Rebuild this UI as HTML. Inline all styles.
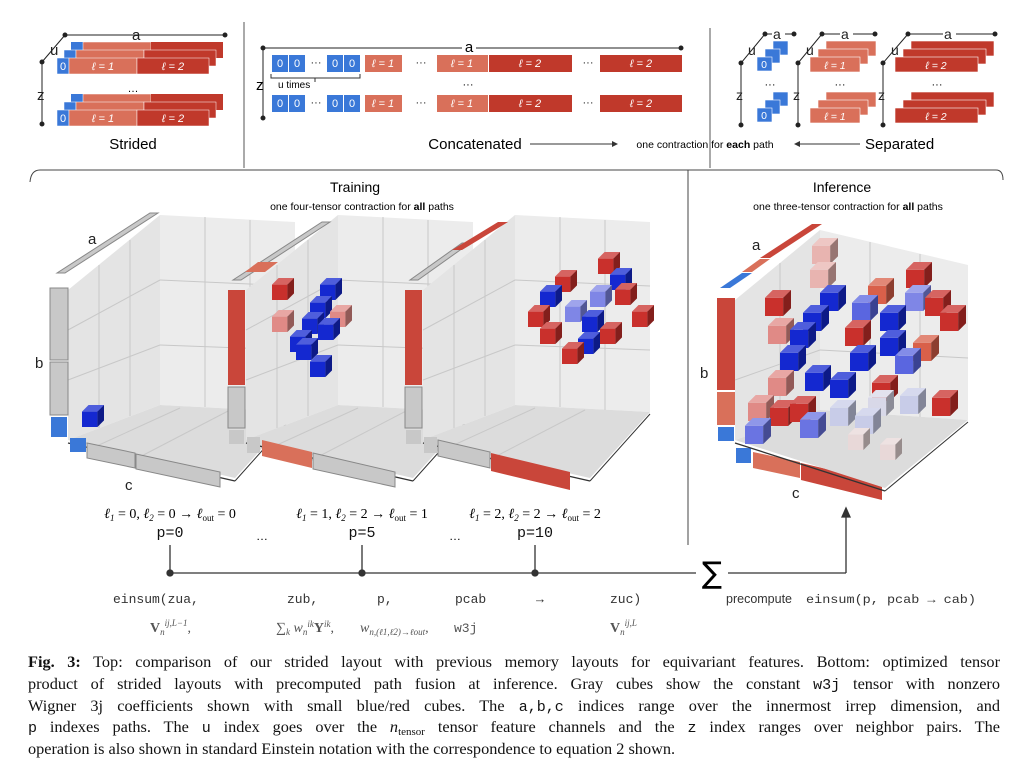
<!DOCTYPE html>
<html><head><meta charset="utf-8"><style>
body{margin:0;background:#fff;width:1024px;height:769px;overflow:hidden;position:relative;font-family:"Liberation Sans",sans-serif}
svg{position:absolute;left:0;top:0}
.cap{position:absolute;left:28px;width:972px;font-family:"Liberation Serif",serif;font-size:16.3px;line-height:21.8px;top:651px;color:#111}
.cap div{text-align:justify;text-align-last:justify;white-space:nowrap;height:21.8px}
.cap div.l{text-align-last:left}
.cap sub{font-size:11px;line-height:0;vertical-align:-3px}
.mono{font-family:"Liberation Mono",monospace;font-size:15px}
</style></head><body>
<svg width="1024" height="769" viewBox="0 0 1024 769" font-family="Liberation Sans, sans-serif">
<defs>
<symbol id="cb" viewBox="0 0 20 20" overflow="visible">
<rect x="0" y="6" width="14" height="14" fill="currentColor"/>
<polygon points="0,6 6,0 20,0 14,6" fill="currentColor"/>
<polygon points="0,6 6,0 20,0 14,6" fill="#fff" opacity=".25"/>
<polygon points="14,6 20,0 20,14 14,20" fill="currentColor"/>
<polygon points="14,6 20,0 20,14 14,20" fill="#000" opacity=".35"/>
</symbol>
<g id="panel">
<polygon points="68,290 160,215 160,405 68,440" fill="#e4e4e4"/>
<polygon points="160,215 295,222 295,412 160,405" fill="#ececec"/>
<polygon points="68,440 160,405 295,412 235,478" fill="#dcdcdc"/>
<g stroke="#c8c8c8" stroke-width="1" fill="none">
<line x1="99" y1="265" x2="99" y2="428"/><line x1="130" y1="240" x2="130" y2="416"/>
<line x1="205" y1="217" x2="205" y2="407"/><line x1="250" y1="220" x2="250" y2="410"/>
<line x1="68" y1="380" x2="160" y2="345"/><line x1="68" y1="330" x2="160" y2="280"/>
<line x1="160" y1="345" x2="295" y2="350"/><line x1="160" y1="280" x2="295" y2="286"/>
<line x1="88" y1="450" x2="180" y2="408"/><line x1="130" y1="462" x2="230" y2="410"/>
</g>
<line x1="68" y1="443" x2="235" y2="481" stroke="#333" stroke-width="1.3"/>
<line x1="235" y1="481" x2="295" y2="414" stroke="#333" stroke-width="1"/>
</g>
</defs>

<g font-size="11" fill="#fff" text-anchor="middle" font-style="italic">
<g id="sst">
<rect x="71" y="42" width="12" height="16" fill="#3a78d8"/><rect x="83" y="42" width="68" height="16" fill="#d9705a" stroke="#fff" stroke-width=".5"/><rect x="151" y="42" width="72" height="16" fill="#c0392b"/>
<rect x="64" y="50" width="12" height="16" fill="#3a78d8" stroke="#fff" stroke-width=".5"/><rect x="76" y="50" width="68" height="16" fill="#d9705a" stroke="#fff" stroke-width=".5"/><rect x="144" y="50" width="72" height="16" fill="#c0392b" stroke="#fff" stroke-width=".5"/>
<rect x="57" y="58" width="12" height="16" fill="#3a78d8" stroke="#fff" stroke-width=".5"/><rect x="69" y="58" width="68" height="16" fill="#d9705a" stroke="#fff" stroke-width=".5"/><rect x="137" y="58" width="72" height="16" fill="#c0392b" stroke="#fff" stroke-width=".5"/>
<text x="63" y="70" font-style="normal">0</text><text x="103" y="70">ℓ = 1</text><text x="173" y="70">ℓ = 2</text>
</g>
<use href="#sst" y="52"/>
</g>
<g stroke="#222" stroke-width="1" fill="#222">
<line x1="65" y1="35" x2="225" y2="35"/><circle cx="65" cy="35" r="2"/><circle cx="225" cy="35" r="2"/>
<line x1="65" y1="35" x2="42" y2="62"/><line x1="42" y1="62" x2="42" y2="124"/><circle cx="42" cy="62" r="2"/><circle cx="42" cy="124" r="2"/>
</g>
<g font-size="15" fill="#222"><text x="132" y="40">a</text><text x="50" y="55">u</text><text x="37" y="100">z</text></g>
<text x="133" y="92" font-size="11" text-anchor="middle">…</text>
<text x="133" y="149" font-size="15" text-anchor="middle">Strided</text>

<line x1="244" y1="22" x2="244" y2="168" stroke="#555"/>
<line x1="710" y1="28" x2="710" y2="168" stroke="#555"/>

<g stroke="#222" fill="#222"><line x1="263" y1="48" x2="681" y2="48"/><circle cx="263" cy="48" r="2"/><circle cx="681" cy="48" r="2"/>
<line x1="263" y1="48" x2="263" y2="118"/><circle cx="263" cy="118" r="2"/></g>
<rect x="462" y="40" width="14" height="14" fill="#fff"/><text x="469" y="52" font-size="15" text-anchor="middle">a</text>
<text x="256" y="90" font-size="15">z</text>
<g id="crow" font-size="11" fill="#fff" text-anchor="middle">
<rect x="272" y="55" width="16" height="17" fill="#3a78d8"/><rect x="289" y="55" width="16" height="17" fill="#3a78d8"/>
<rect x="327" y="55" width="16" height="17" fill="#3a78d8"/><rect x="344" y="55" width="16" height="17" fill="#3a78d8"/>
<text x="280" y="67">0</text><text x="297" y="67">0</text><text x="335" y="67">0</text><text x="352" y="67">0</text>
<rect x="365" y="55" width="37" height="17" fill="#d9705a"/><rect x="437" y="55" width="51" height="17" fill="#d9705a"/>
<rect x="489" y="55" width="83" height="17" fill="#c0392b"/><rect x="600" y="55" width="82" height="17" fill="#c0392b"/>
<text x="383" y="67" font-style="italic">ℓ = 1</text><text x="462" y="67" font-style="italic">ℓ = 1</text><text x="530" y="67" font-style="italic">ℓ = 2</text><text x="641" y="67" font-style="italic">ℓ = 2</text>
<g fill="#222"><text x="316" y="66">···</text><text x="421" y="66">···</text><text x="588" y="66">···</text></g>
</g>
<use href="#crow" y="40"/>
<path d="M271,74 v4 h89 v-4 M315,78 v4" stroke="#333" fill="none"/>
<text x="278" y="88" font-size="10">u  times</text>
<text x="468" y="88" font-size="11" text-anchor="middle">···</text>
<text x="475" y="149" font-size="15" text-anchor="middle">Concatenated</text>
<line x1="530" y1="144" x2="612" y2="144" stroke="#333"/><polygon points="612,141 618,144 612,147" fill="#333"/>
<text x="705" y="148" font-size="10.5" text-anchor="middle">one contraction for <tspan font-weight="bold">each</tspan> path</text>
<line x1="800" y1="144" x2="860" y2="144" stroke="#333"/><polygon points="800,141 794,144 800,147" fill="#333"/>
<text x="865" y="149" font-size="15">Separated</text>

<g stroke="#222" fill="#222">
<line x1="765" y1="34" x2="794" y2="34"/><circle cx="765" cy="34" r="2"/><circle cx="794" cy="34" r="2"/>
<path d="M765,34 L741,63 V125" fill="none"/><circle cx="741" cy="63" r="2"/><circle cx="741" cy="125" r="2"/>
<line x1="822" y1="34" x2="875" y2="34"/><circle cx="822" cy="34" r="2"/><circle cx="875" cy="34" r="2"/>
<path d="M822,34 L798,63 V125" fill="none"/><circle cx="798" cy="63" r="2"/><circle cx="798" cy="125" r="2"/>
<line x1="908" y1="34" x2="995" y2="34"/><circle cx="908" cy="34" r="2"/><circle cx="995" cy="34" r="2"/>
<path d="M908,34 L883,63 V125" fill="none"/><circle cx="883" cy="63" r="2"/><circle cx="883" cy="125" r="2"/>
</g>
<g font-size="14" fill="#222"><rect x="772" y="27" width="13" height="14" fill="#fff"/><text x="773" y="39">a</text>
<rect x="840" y="27" width="13" height="14" fill="#fff"/><text x="841" y="39">a</text>
<rect x="943" y="27" width="13" height="14" fill="#fff"/><text x="944" y="39">a</text>
<text x="748" y="55">u</text><text x="806" y="55">u</text><text x="891" y="55">u</text>
<text x="736" y="100">z</text><text x="793" y="100">z</text><text x="878" y="100">z</text></g>
<g id="sep" font-size="10.5" fill="#fff" text-anchor="middle">
<rect x="773" y="41" width="15" height="14" fill="#3a78d8" stroke="#fff" stroke-width=".6"/><rect x="765" y="49" width="15" height="14" fill="#3a78d8" stroke="#fff" stroke-width=".6"/><rect x="757" y="57" width="15" height="14" fill="#3a78d8" stroke="#fff" stroke-width=".6"/><text x="764" y="68">0</text>
<rect x="826" y="41" width="50" height="15" fill="#d9705a" stroke="#fff" stroke-width=".6"/><rect x="818" y="49" width="50" height="15" fill="#d9705a" stroke="#fff" stroke-width=".6"/><rect x="810" y="57" width="50" height="15" fill="#d9705a" stroke="#fff" stroke-width=".6"/><text x="835" y="69" font-style="italic">ℓ = 1</text>
<rect x="911" y="41" width="83" height="15" fill="#c0392b" stroke="#fff" stroke-width=".6"/><rect x="903" y="49" width="83" height="15" fill="#c0392b" stroke="#fff" stroke-width=".6"/><rect x="895" y="57" width="83" height="15" fill="#c0392b" stroke="#fff" stroke-width=".6"/><text x="936" y="69" font-style="italic">ℓ = 2</text>
</g>
<use href="#sep" y="51"/>
<g font-size="11" text-anchor="middle"><text x="770" y="88">···</text><text x="840" y="88">···</text><text x="937" y="88">···</text></g>

<path d="M30,182 Q31,170 40,170 H996 Q1003,170 1003,180" fill="none" stroke="#444"/>
<line x1="688" y1="170" x2="688" y2="545" stroke="#444"/>

<text x="355" y="192" font-size="14" text-anchor="middle">Training</text>
<text x="362" y="210" font-size="10.5" text-anchor="middle">one four-tensor contraction for <tspan font-weight="bold">all</tspan> paths</text>

<use href="#panel"/>
<use href="#panel" x="178"/>
<use href="#panel" x="355"/>

<g font-size="9" fill="#fff" text-anchor="middle">
<polygon points="50,288 68,288 68,360 50,360" fill="#c8c8c8" stroke="#888"/><polygon points="50,362 68,362 68,415 50,415" fill="#c8c8c8" stroke="#888"/><rect x="51" y="417" width="16" height="20" fill="#3a78d8"/>
<polygon points="57,273 65,273 158,213 150,213" fill="#c8c8c8" stroke="#888"/>
<polygon points="70,438 86,438 86,452 70,452" fill="#3a78d8"/>
<polygon points="87,443 135,453 135,468 87,458" fill="#c8c8c8" stroke="#888"/><polygon points="136,454 220,472 220,487 136,469" fill="#c8c8c8" stroke="#888"/>
<polygon points="228,290 245,290 245,385 228,385" fill="#c9463a"/><polygon points="228,387 245,387 245,428 228,428" fill="#c8c8c8" stroke="#888"/><rect x="229" y="430" width="15" height="14" fill="#c8c8c8"/>
<polygon points="233,280 241,280 330,222 322,222" fill="#c8c8c8" stroke="#888"/><polygon points="245,272 265,272 278,262 258,262" fill="#d9705a"/>
<polygon points="247,437 260,437 260,453 247,453" fill="#c8c8c8"/>
<polygon points="262,440 312,452 312,468 262,456" fill="#d9705a"/><polygon points="313,453 395,472 395,487 313,469" fill="#c8c8c8" stroke="#888"/>
<polygon points="405,290 422,290 422,385 405,385" fill="#c9463a"/><polygon points="405,387 422,387 422,428 405,428" fill="#c8c8c8" stroke="#888"/><rect x="406" y="430" width="15" height="14" fill="#c8c8c8"/>
<polygon points="410,280 418,280 470,243 462,243" fill="#c8c8c8" stroke="#888"/><polygon points="452,250 462,250 508,222 498,222" fill="#c9463a"/>
<polygon points="424,437 437,437 437,453 424,453" fill="#c8c8c8"/>
<polygon points="438,440 490,452 490,468 438,456" fill="#c8c8c8" stroke="#888"/><polygon points="491,453 570,472 570,490 491,471" fill="#c9463a"/>
<polygon points="717,298 735,298 735,390 717,390" fill="#c9463a"/><polygon points="717,392 735,392 735,425 717,425" fill="#d9705a"/><rect x="718" y="427" width="16" height="14" fill="#3a78d8"/>
<polygon points="720,288 730,288 752,273 742,273" fill="#3a78d8"/><polygon points="742,272 752,272 770,259 760,259" fill="#d9705a"/><polygon points="760,258 770,258 822,224 812,224" fill="#c9463a"/>
<rect x="736" y="448" width="15" height="15" fill="#3a78d8"/>
<polygon points="753,452 800,462 800,478 753,468" fill="#d9705a"/><polygon points="801,463 882,482 882,500 801,480" fill="#c9463a"/>
</g>
<g font-size="15" fill="#222"><text x="88" y="244">a</text><text x="35" y="368">b</text><text x="125" y="490">c</text>
<text x="752" y="250">a</text><text x="700" y="378">b</text><text x="792" y="498">c</text></g>

<polygon points="735,300 820,230 820,410 735,440" fill="#e4e4e4"/>
<polygon points="820,230 968,265 968,420 820,410" fill="#ececec"/>
<polygon points="735,440 820,410 968,420 885,488" fill="#dcdcdc"/>
<g stroke="#c8c8c8"><line x1="780" y1="263" x2="780" y2="425"/><line x1="870" y1="242" x2="870" y2="414"/><line x1="920" y1="254" x2="920" y2="417"/><line x1="735" y1="380" x2="820" y2="350"/><line x1="820" y1="350" x2="968" y2="358"/></g>
<line x1="735" y1="443" x2="885" y2="491" stroke="#333" stroke-width="1.3"/><line x1="885" y1="491" x2="968" y2="422" stroke="#333"/>

<g>
<use href="#cb" x="82" y="405" width="22" height="22" color="#1428d0"/>
<use href="#cb" x="272" y="278" width="22" height="22" color="#c9302c"/>
<use href="#cb" x="320" y="278" width="22" height="22" color="#1428d0"/>
<use href="#cb" x="310" y="296" width="22" height="22" color="#1428d0"/>
<use href="#cb" x="272" y="310" width="22" height="22" color="#e08a86"/>
<use href="#cb" x="330" y="305" width="22" height="22" color="#e08a86"/>
<use href="#cb" x="302" y="312" width="22" height="22" color="#1428d0"/>
<use href="#cb" x="318" y="318" width="22" height="22" color="#1428d0"/>
<use href="#cb" x="290" y="330" width="22" height="22" color="#1428d0"/>
<use href="#cb" x="296" y="338" width="22" height="22" color="#1428d0"/>
<use href="#cb" x="310" y="355" width="22" height="22" color="#1428d0"/>
<use href="#cb" x="598" y="252" width="22" height="22" color="#c9302c"/>
<use href="#cb" x="555" y="270" width="22" height="22" color="#c9302c"/>
<use href="#cb" x="610" y="268" width="22" height="22" color="#1428d0"/>
<use href="#cb" x="540" y="285" width="22" height="22" color="#1428d0"/>
<use href="#cb" x="590" y="285" width="22" height="22" color="#7f86e6"/>
<use href="#cb" x="615" y="283" width="22" height="22" color="#c9302c"/>
<use href="#cb" x="632" y="305" width="22" height="22" color="#c9302c"/>
<use href="#cb" x="528" y="305" width="22" height="22" color="#c9302c"/>
<use href="#cb" x="565" y="300" width="22" height="22" color="#7f86e6"/>
<use href="#cb" x="582" y="310" width="22" height="22" color="#1428d0"/>
<use href="#cb" x="540" y="322" width="22" height="22" color="#c9302c"/>
<use href="#cb" x="600" y="322" width="22" height="22" color="#c9302c"/>
<use href="#cb" x="578" y="332" width="22" height="22" color="#1428d0"/>
<use href="#cb" x="562" y="342" width="22" height="22" color="#c9302c"/>
<use href="#cb" x="812" y="238" width="26" height="26" color="#e8b4b0"/>
<use href="#cb" x="810" y="262" width="26" height="26" color="#e8b4b0"/>
<use href="#cb" x="906" y="262" width="26" height="26" color="#c9302c"/>
<use href="#cb" x="765" y="290" width="26" height="26" color="#c9302c"/>
<use href="#cb" x="820" y="285" width="26" height="26" color="#1428d0"/>
<use href="#cb" x="868" y="278" width="26" height="26" color="#d9604a"/>
<use href="#cb" x="905" y="285" width="26" height="26" color="#7f86e6"/>
<use href="#cb" x="925" y="290" width="26" height="26" color="#c9302c"/>
<use href="#cb" x="852" y="295" width="26" height="26" color="#5a66e0"/>
<use href="#cb" x="803" y="305" width="26" height="26" color="#1428d0"/>
<use href="#cb" x="880" y="305" width="26" height="26" color="#1428d0"/>
<use href="#cb" x="940" y="305" width="26" height="26" color="#c9302c"/>
<use href="#cb" x="768" y="318" width="26" height="26" color="#e08a86"/>
<use href="#cb" x="790" y="322" width="26" height="26" color="#1428d0"/>
<use href="#cb" x="845" y="320" width="26" height="26" color="#c9302c"/>
<use href="#cb" x="880" y="330" width="26" height="26" color="#1428d0"/>
<use href="#cb" x="913" y="335" width="26" height="26" color="#d9604a"/>
<use href="#cb" x="780" y="345" width="26" height="26" color="#1428d0"/>
<use href="#cb" x="850" y="345" width="26" height="26" color="#1428d0"/>
<use href="#cb" x="895" y="348" width="26" height="26" color="#5a66e0"/>
<use href="#cb" x="768" y="370" width="26" height="26" color="#e08a86"/>
<use href="#cb" x="805" y="365" width="26" height="26" color="#1428d0"/>
<use href="#cb" x="830" y="372" width="26" height="26" color="#1428d0"/>
<use href="#cb" x="872" y="375" width="26" height="26" color="#c9302c"/>
<use href="#cb" x="868" y="390" width="26" height="26" color="#d8d8e8"/>
<use href="#cb" x="900" y="388" width="26" height="26" color="#c8cce8"/>
<use href="#cb" x="932" y="390" width="26" height="26" color="#c9302c"/>
<use href="#cb" x="748" y="395" width="26" height="26" color="#e08a86"/>
<use href="#cb" x="770" y="400" width="26" height="26" color="#c9302c"/>
<use href="#cb" x="790" y="396" width="26" height="26" color="#c9302c"/>
<use href="#cb" x="830" y="400" width="26" height="26" color="#c8cce8"/>
<use href="#cb" x="855" y="408" width="26" height="26" color="#c8cce8"/>
<use href="#cb" x="745" y="418" width="26" height="26" color="#6a74e2"/>
<use href="#cb" x="800" y="412" width="26" height="26" color="#6a74e2"/>
<use href="#cb" x="848" y="428" width="22" height="22" color="#e8d8d8"/>
<use href="#cb" x="880" y="438" width="22" height="22" color="#e8d8d8"/>
</g>
<text x="842" y="192" font-size="14" text-anchor="middle">Inference</text>
<text x="848" y="210" font-size="10.5" text-anchor="middle">one three-tensor contraction for <tspan font-weight="bold">all</tspan> paths</text>

<g font-family="Liberation Serif, serif" font-size="14" text-anchor="middle" font-style="italic">
<text x="170" y="518">ℓ<tspan font-size="9" dy="3">1</tspan><tspan dy="-3" font-style="normal"> = 0, </tspan>ℓ<tspan font-size="9" dy="3">2</tspan><tspan dy="-3" font-style="normal"> = 0 → </tspan>ℓ<tspan font-size="9" dy="3" font-style="normal">out</tspan><tspan dy="-3" font-style="normal"> = 0</tspan></text>
<text x="362" y="518">ℓ<tspan font-size="9" dy="3">1</tspan><tspan dy="-3" font-style="normal"> = 1, </tspan>ℓ<tspan font-size="9" dy="3">2</tspan><tspan dy="-3" font-style="normal"> = 2 → </tspan>ℓ<tspan font-size="9" dy="3" font-style="normal">out</tspan><tspan dy="-3" font-style="normal"> = 1</tspan></text>
<text x="535" y="518">ℓ<tspan font-size="9" dy="3">1</tspan><tspan dy="-3" font-style="normal"> = 2, </tspan>ℓ<tspan font-size="9" dy="3">2</tspan><tspan dy="-3" font-style="normal"> = 2 → </tspan>ℓ<tspan font-size="9" dy="3" font-style="normal">out</tspan><tspan dy="-3" font-style="normal"> = 2</tspan></text>
</g>
<g font-family="Liberation Mono, monospace" font-size="15" text-anchor="middle" fill="#111">
<text x="170" y="537">p=0</text><text x="362" y="537">p=5</text><text x="535" y="537">p=10</text>
</g>
<text x="262" y="540" font-size="12" text-anchor="middle">…</text><text x="455" y="540" font-size="12" text-anchor="middle">…</text>

<g stroke="#333" stroke-width="1.3" fill="#333">
<line x1="170" y1="573" x2="696" y2="573"/>
<line x1="728" y1="573" x2="846" y2="573"/><line x1="846" y1="573" x2="846" y2="515"/>
<polygon points="842,517 846,508 850,517"/>
<line x1="170" y1="545" x2="170" y2="573"/><circle cx="170" cy="573" r="3"/>
<line x1="362" y1="545" x2="362" y2="573"/><circle cx="362" cy="573" r="3"/>
<line x1="535" y1="545" x2="535" y2="573"/><circle cx="535" cy="573" r="3"/>
</g>
<text x="712" y="583" font-size="30" text-anchor="middle" font-family="DejaVu Sans, sans-serif">∑</text>

<g font-family="Liberation Mono, monospace" font-size="13" fill="#333">
<text x="113" y="603">einsum(zua,</text><text x="287" y="603">zub,</text><text x="377" y="603">p,</text><text x="455" y="603">pcab</text><text x="536" y="603">→</text><text x="610" y="603">zuc)</text>
<text x="726" y="603" font-family="Liberation Sans, sans-serif" font-size="12.5">precompute</text><text x="806" y="603" font-size="12" textLength="170" lengthAdjust="spacingAndGlyphs">einsum(p, pcab → cab)</text>
</g>
<g font-family="Liberation Serif, serif" font-size="14" fill="#555">
<text x="150" y="632"><tspan font-weight="bold">V</tspan><tspan font-size="9" dy="3" font-style="italic">n</tspan><tspan font-size="9" dy="-9" font-style="italic">ij,L−1</tspan><tspan dy="6">,</tspan></text>
<text x="276" y="632">∑<tspan font-size="9" dy="3" font-style="italic">k</tspan><tspan dy="-3" font-style="italic"> w</tspan><tspan font-size="9" dy="3" font-style="italic">n</tspan><tspan font-size="9" dy="-8" font-style="italic">ik</tspan><tspan dy="5" font-weight="bold">Y</tspan><tspan font-size="9" dy="-5" font-style="italic">ik</tspan><tspan dy="5">,</tspan></text>
<text x="360" y="632" font-style="italic">w<tspan font-size="9" dy="3">n,(ℓ1,ℓ2)→ℓout</tspan><tspan dy="-3">,</tspan></text>
<text x="454" y="632" font-family="Liberation Mono, monospace" font-size="13">w3j</text>
<text x="610" y="632"><tspan font-weight="bold">V</tspan><tspan font-size="9" dy="3" font-style="italic">n</tspan><tspan font-size="9" dy="-9" font-style="italic">ij,L</tspan></text>
</g>
</svg>
<div class="cap">
<div><b>Fig. 3:</b> Top: comparison of our strided layout with previous memory layouts for equivariant features. Bottom: optimized tensor</div>
<div>product of strided layouts with precomputed path fusion at inference. Gray cubes show the constant <span class="mono">w3j</span> tensor with nonzero</div>
<div>Wigner 3j coefficients shown with small blue/red cubes. The <span class="mono">a,b,c</span> indices range over the innermost irrep dimension, and</div>
<div><span class="mono">p</span> indexes paths. The <span class="mono">u</span> index goes over the <i>n</i><sub>tensor</sub> tensor feature channels and the <span class="mono">z</span> index ranges over neighbor pairs. The</div>
<div class="l">operation is also shown in standard Einstein notation with the correspondence to equation 2 shown.</div>
</div>
</body></html>
